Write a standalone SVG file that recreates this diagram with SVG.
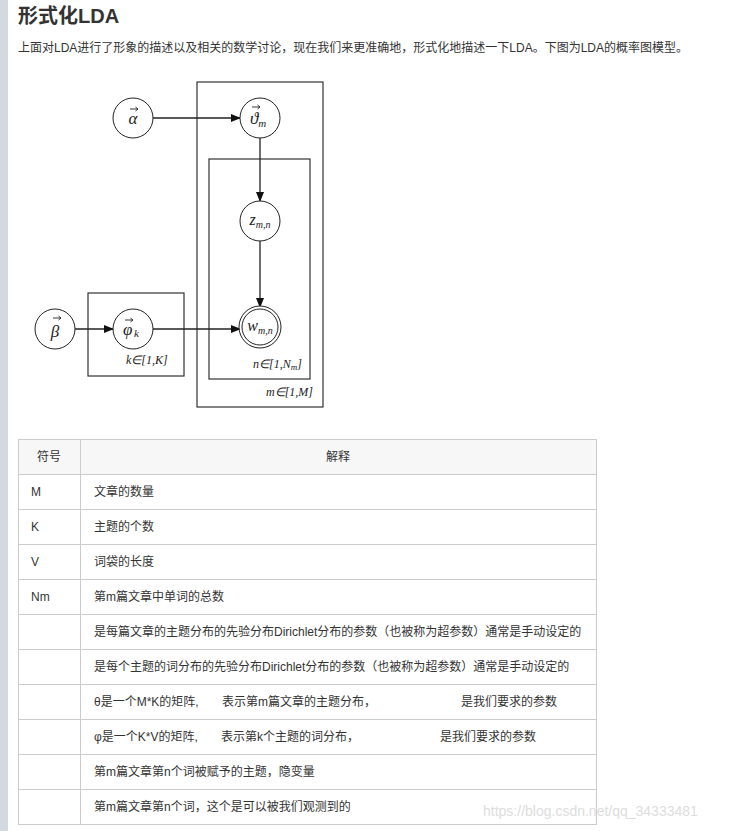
<svg xmlns="http://www.w3.org/2000/svg" width="734" height="831" viewBox="0 0 734 831">
<style>
.t{font-family:"Liberation Sans","Noto Sans CJK SC",sans-serif;font-size:12px;fill:#333}
.m{font-family:"Liberation Serif",serif;font-style:italic;fill:#222}
.v{fill:none;stroke:#222;stroke-width:0.9}
.n{fill:#fff;stroke:#222;stroke-width:1}
.p{fill:none;stroke:#333;stroke-width:1.2}
.c{stroke:#222;stroke-width:1.3;fill:none;marker-end:url(#a)}
.g{stroke:#ccc;stroke-width:1;fill:none}
</style>
<defs><marker id="a" markerWidth="10" markerHeight="8" refX="9" refY="4" orient="auto" markerUnits="userSpaceOnUse"><path d="M0,0 L10,4 L0,8 z" fill="#111"/></marker>
<path id="vec" d="M-4,0 H4 M1.5,-2 L4,0 L1.5,2"/></defs>
<rect width="734" height="831" fill="#fff"/>
<rect x="0" y="0" width="8" height="831" fill="#d3d9e0"/>
<text x="18" y="23" font-family="Liberation Sans,Noto Sans CJK SC,sans-serif" font-size="20" font-weight="bold" fill="#333">形式化LDA</text>
<text class="t" x="18" y="52" font-size="11.5">上面对LDA进行了形象的描述以及相关的数学讨论，现在我们来更准确地，形式化地描述一下LDA。下图为LDA的概率图模型。</text>
<g id="plates">
<rect class="p" x="197" y="82" width="126" height="325"/>
<rect class="p" x="209" y="159" width="101" height="220"/>
<rect class="p" x="88" y="293" width="96" height="83"/>
<text class="m" x="266" y="396" font-size="12">m∈[1,M]</text>
<text class="m" x="253" y="368" font-size="12">n∈[1,N<tspan font-size="9" dy="2">m</tspan><tspan dy="-2">]</tspan></text>
<text class="m" x="126" y="364" font-size="12">k∈[1,K]</text>
</g>
<g id="connectors">
<line class="c" x1="153" y1="118" x2="240" y2="118"/>
<line class="c" x1="260" y1="138" x2="260" y2="201"/>
<line class="c" x1="260" y1="241" x2="260" y2="307"/>
<line class="c" x1="75" y1="329" x2="113" y2="329"/>
<line class="c" x1="153" y1="329" x2="240" y2="329"/>
</g>
<g id="alpha"><circle class="n" cx="133" cy="118" r="20"/><text class="m" x="133" y="124" font-size="17" text-anchor="middle">α</text><use href="#vec" class="v" x="134" y="109"/></g>
<g id="theta"><circle class="n" cx="260" cy="118" r="20"/><text class="m" x="250" y="124" font-size="17">ϑ<tspan font-size="11" dy="3">m</tspan></text><use href="#vec" class="v" x="256" y="107"/></g>
<g id="z"><circle class="n" cx="260" cy="221" r="20"/><text class="m" x="260" y="225" font-size="16" text-anchor="middle">z<tspan font-size="10" dy="3">m,n</tspan></text></g>
<g id="w"><circle class="n" cx="260" cy="327" r="21"/><circle class="n" cx="260" cy="327" r="18"/><text class="m" x="260" y="331" font-size="16" text-anchor="middle">w<tspan font-size="10" dy="3">m,n</tspan></text></g>
<g id="beta"><circle class="n" cx="55" cy="329" r="20"/><text class="m" x="55" y="337" font-size="17" text-anchor="middle">β</text><use href="#vec" class="v" x="57" y="318"/></g>
<g id="phi"><circle class="n" cx="133" cy="329" r="20"/><text class="m" x="123" y="335" font-size="17">φ</text><text class="m" x="134" y="337" font-size="11">k</text><use href="#vec" class="v" x="129" y="320"/></g>
<g id="table">
<rect x="18" y="439" width="578" height="35" fill="#f7f7f7"/>
<rect class="g" x="18.5" y="439.5" width="578" height="385"/>
<line class="g" x1="80.5" y1="439" x2="80.5" y2="825"/>
<g class="g">
<line x1="18" y1="474.5" x2="596" y2="474.5"/><line x1="18" y1="509.5" x2="596" y2="509.5"/><line x1="18" y1="544.5" x2="596" y2="544.5"/><line x1="18" y1="579.5" x2="596" y2="579.5"/><line x1="18" y1="614.5" x2="596" y2="614.5"/><line x1="18" y1="649.5" x2="596" y2="649.5"/><line x1="18" y1="684.5" x2="596" y2="684.5"/><line x1="18" y1="719.5" x2="596" y2="719.5"/><line x1="18" y1="754.5" x2="596" y2="754.5"/><line x1="18" y1="789.5" x2="596" y2="789.5"/>
</g>
<text class="t" x="49" y="461" text-anchor="middle">符号</text>
<text class="t" x="338" y="461" text-anchor="middle">解释</text>
<text class="t" x="31" y="496">M</text><text class="t" x="94" y="496">文章的数量</text>
<text class="t" x="31" y="531">K</text><text class="t" x="94" y="531">主题的个数</text>
<text class="t" x="31" y="566">V</text><text class="t" x="94" y="566">词袋的长度</text>
<text class="t" x="31" y="601">Nm</text><text class="t" x="94" y="601">第m篇文章中单词的总数</text>
<text class="t" x="94" y="636">是每篇文章的主题分布的先验分布Dirichlet分布的参数（也被称为超参数）通常是手动设定的</text>
<text class="t" x="94" y="671">是每个主题的词分布的先验分布Dirichlet分布的参数（也被称为超参数）通常是手动设定的</text>
<text class="t" x="94" y="706">θ是一个M*K的矩阵,</text><text class="t" x="222" y="706">表示第m篇文章的主题分布，</text><text class="t" x="461" y="706">是我们要求的参数</text>
<text class="t" x="94" y="741">φ是一个K*V的矩阵,</text><text class="t" x="221" y="741">表示第k个主题的词分布，</text><text class="t" x="440" y="741">是我们要求的参数</text>
<text class="t" x="94" y="776">第m篇文章第n个词被赋予的主题，隐变量</text>
<text class="t" x="94" y="811">第m篇文章第n个词，这个是可以被我们观测到的</text>
</g>
<text x="483" y="816" font-family="Liberation Sans,sans-serif" font-size="14" fill="#ddd">https://blog.csdn.net/qq_34333481</text>
</svg>
